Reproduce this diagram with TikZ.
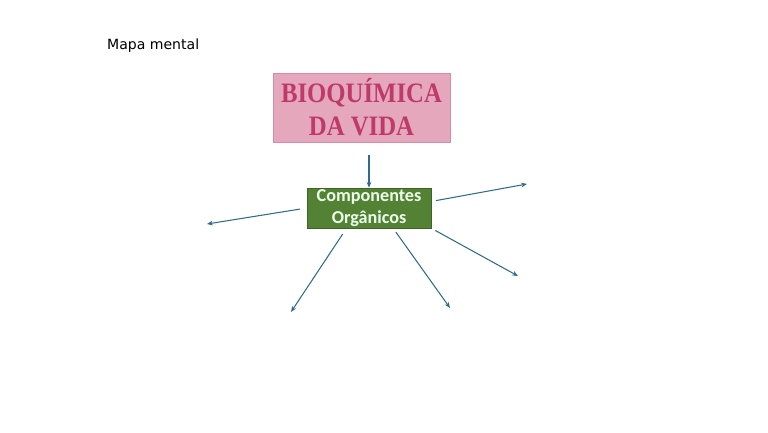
\documentclass[tikz,border=0pt]{standalone}
\usepackage{fontspec}
\usepackage{xcolor}
\usepackage{tikz}
\usetikzlibrary{arrows.meta, calc}

\setmainfont{Liberation Serif}
\newfontfamily\labelfont{Carlito}
\newfontfamily\notefont{DejaVu Sans}

\definecolor{titlefill}{HTML}{E4A7BB}
\definecolor{titletext}{HTML}{C0396B}
\definecolor{titleedge}{HTML}{D98AA8}
\definecolor{leaffill}{HTML}{548235}
\definecolor{leafedge}{HTML}{3F6427}
\definecolor{linkblue}{HTML}{2E6B8C}

\newcommand{\narrow}[1]{\scalebox{0.88}[1]{#1}}

\begin{document}
\begin{tikzpicture}[
    x=0.03cm,
    y=-0.03cm,
    title/.style={
        rectangle,
        draw=titleedge,
        thin,
        fill=titlefill,
        text=titletext,
        align=center,
        minimum width=5.31cm,
        minimum height=2.07cm,
        inner sep=0pt,
        font=\fontsize{24}{28}\selectfont\bfseries
    },
    topic/.style={
        rectangle,
        draw=leafedge,
        thin,
        fill=leaffill,
        text=white!92!green,
        align=center,
        minimum width=3.72cm,
        minimum height=1.2cm,
        inner sep=0pt,
        font=\labelfont\fontsize{15.5}{18.5}\selectfont\bfseries
    },
    arrow/.style={
        ->,
        >={Stealth[length=5pt, width=4pt]},
        line width=0.9pt,
        color=linkblue
    }
]
\useasboundingbox (0,0) rectangle (768,433);

% Heading
\node[anchor=west, font=\notefont\fontsize{12}{14}\selectfont] (heading) at (103,46) {Mapa mental};

% Central boxes
\node[title] (title) at (361.5,107.5) {\narrow{BIOQUÍMICA}\\\narrow{DA VIDA}};
\node[topic] (comp) at (369,208) {Componentes\\Orgânicos};

% Free ends of the branches
\coordinate (endright) at (527,184);
\coordinate (endleft) at (207,224);
\coordinate (enddownleft) at (291,312);
\coordinate (enddown) at (450,308);
\coordinate (enddownright) at (518,276);

% Branches
\draw[arrow, shorten <=11pt] (title.south -| comp.north) -- (comp.north);
\draw[arrow, shorten <=4pt] (comp.6) -- (endright);
\draw[arrow, shorten <=6pt] (comp.west) -- (endleft);
\draw[arrow, shorten <=6pt] (comp.222) -- (enddownleft);
\draw[arrow, shorten <=4pt] (comp.-40) -- (enddown);
\draw[arrow, shorten <=4pt] (comp.south east) -- (enddownright);

\end{tikzpicture}
\end{document}
